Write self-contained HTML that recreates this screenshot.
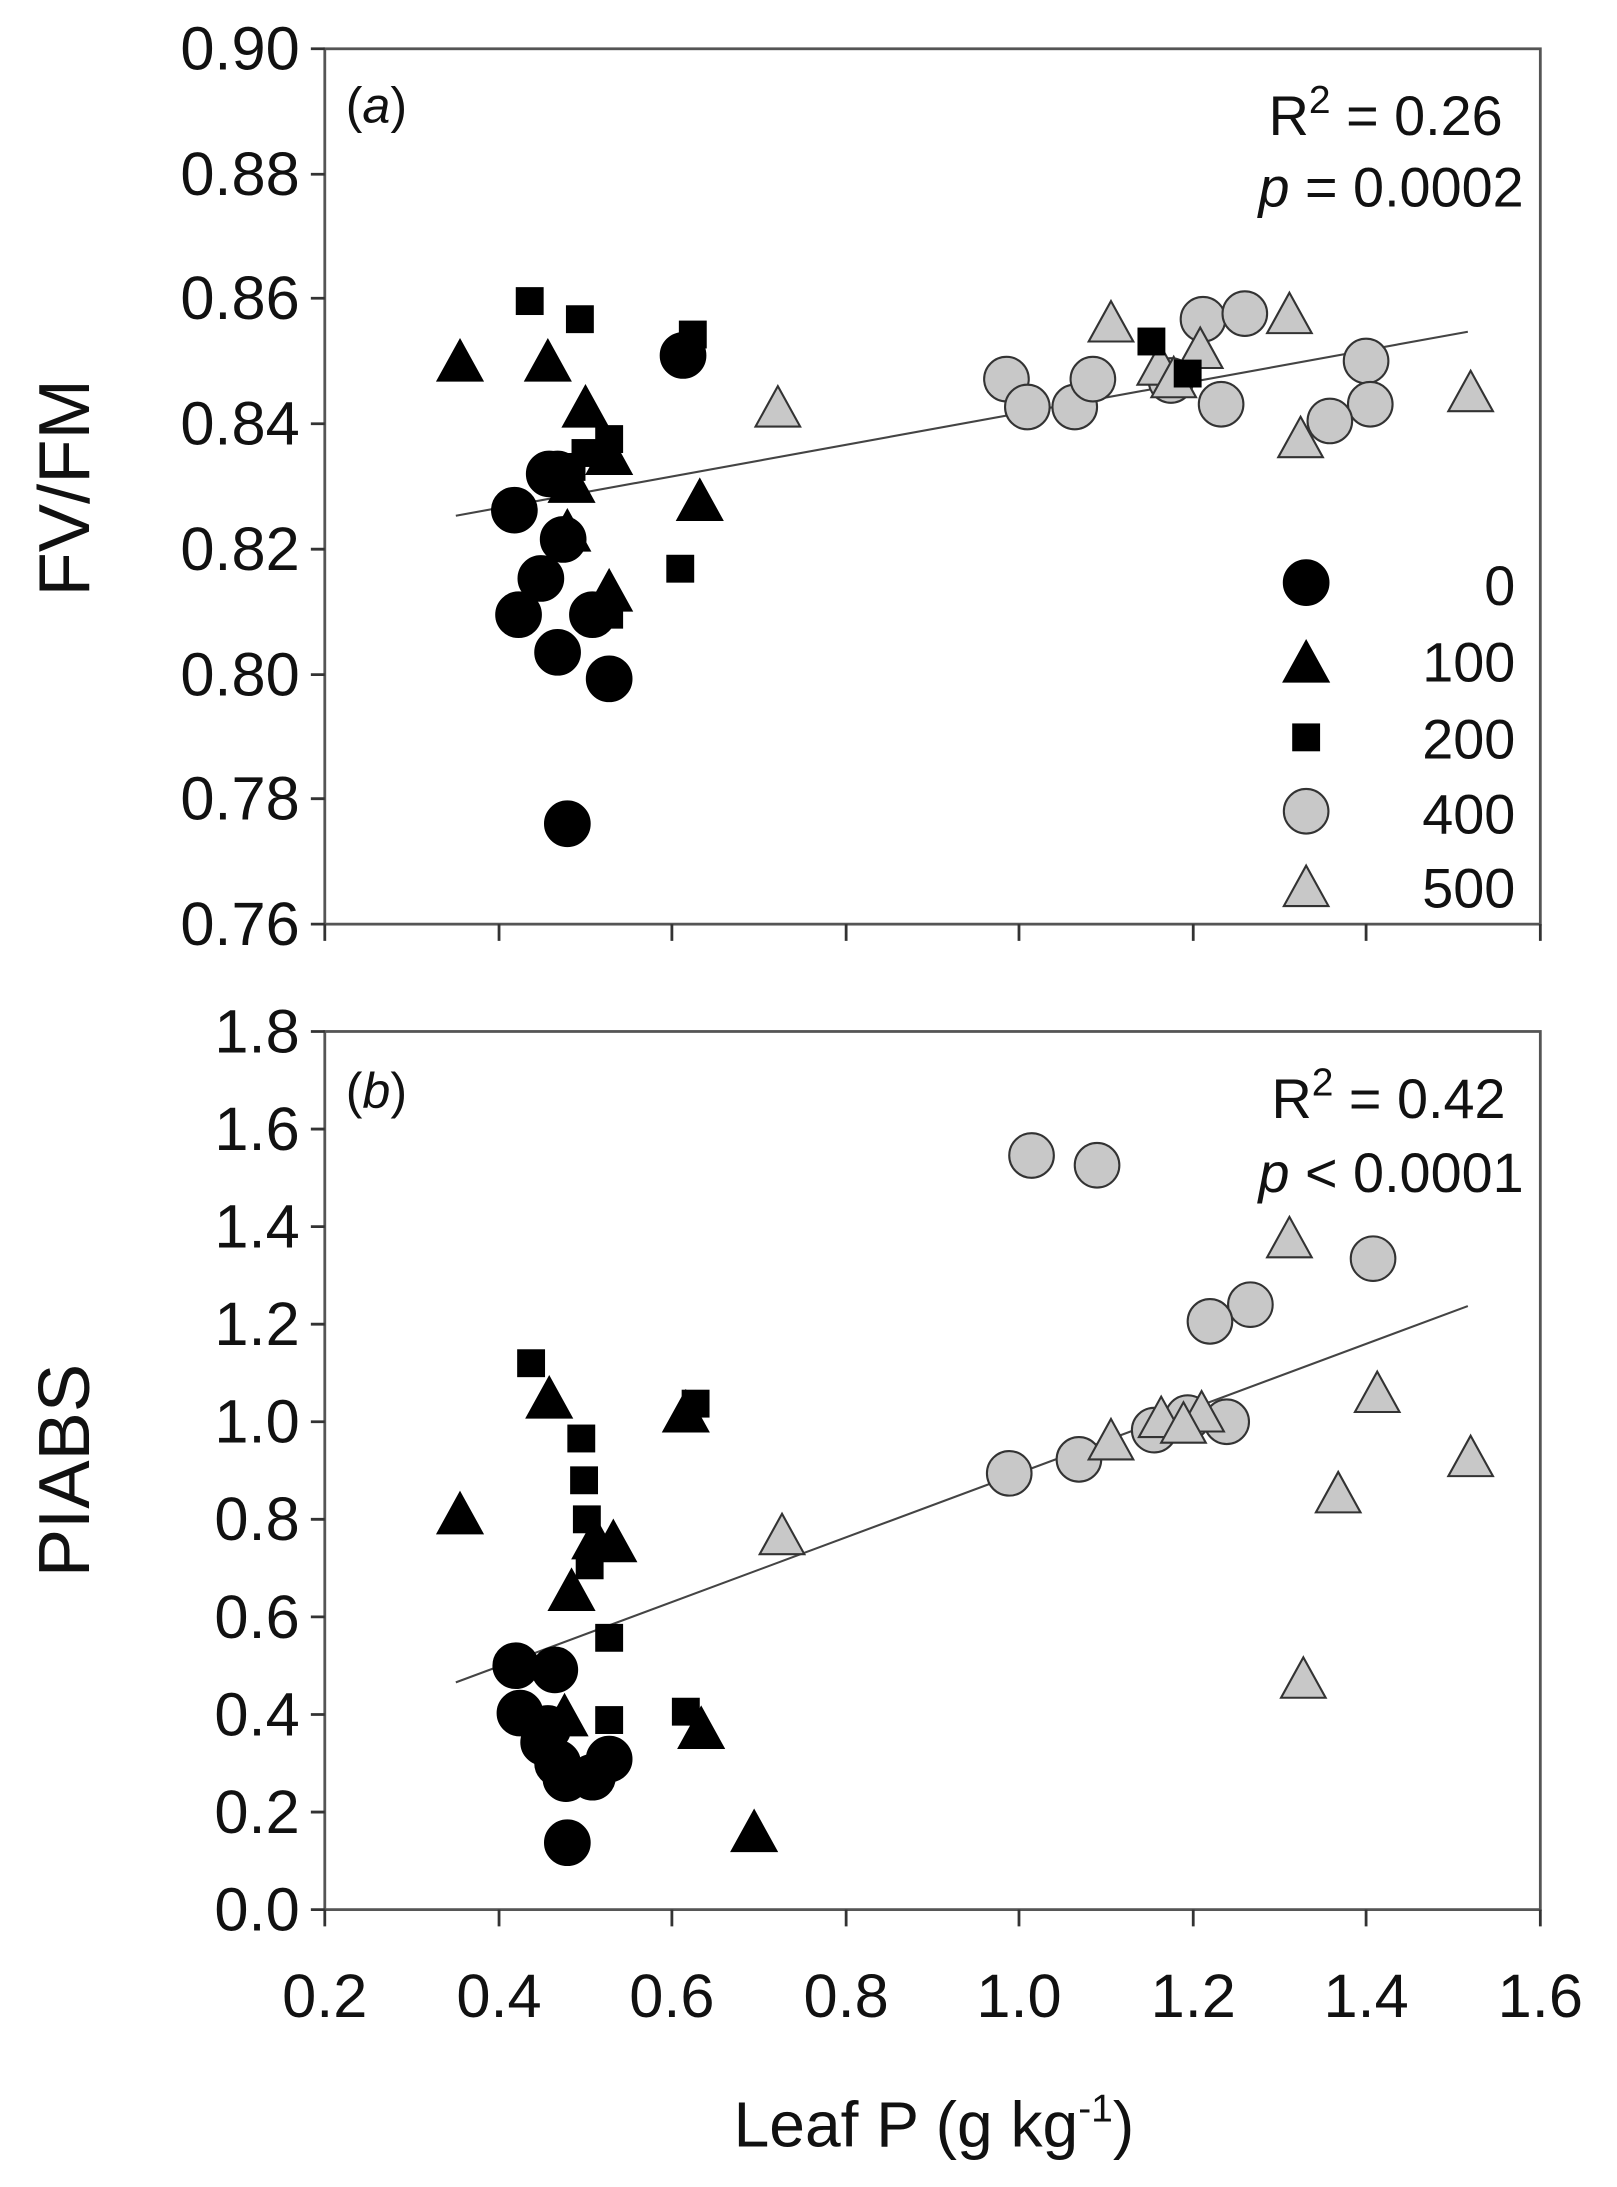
<!DOCTYPE html>
<html><head><meta charset="utf-8"><style>
html,body{margin:0;padding:0;background:#fff}
svg{display:block}
text{font-family:"Liberation Sans",Arial,sans-serif;fill:#111}
</style></head><body>
<svg width="1617" height="2187" viewBox="0 0 1160 1569" preserveAspectRatio="none" xmlns="http://www.w3.org/2000/svg">
<defs>
<circle id="bc" r="16" fill="#000" stroke="#000" stroke-width="1.5"/>
<circle id="gc" r="16" fill="#c8c8c8" stroke="#333" stroke-width="1.5"/>
<polygon id="bt" points="0,-16 16,13 -16,13" fill="#000" stroke="#000" stroke-width="1.5"/>
<polygon id="gt" points="0,-16 16,13 -16,13" fill="#c8c8c8" stroke="#333" stroke-width="1.5"/>
<rect id="bs" x="-10" y="-10" width="20" height="20" fill="#000"/>
</defs>
<g stroke="#555" stroke-width="2" fill="none">
<rect x="233" y="35" width="872" height="628"/>
<rect x="233" y="740" width="872" height="630"/>
</g>
<g stroke="#333" stroke-width="2">
<path d="M233,663v12M358,663v12M482,663v12M607,663v12M731,663v12M856,663v12M980,663v12M1105,663v12"/>
<path d="M233,1370v12M358,1370v12M482,1370v12M607,1370v12M731,1370v12M856,1370v12M980,1370v12M1105,1370v12"/>
<path d="M223,35h10M223,125h10M223,214h10M223,304h10M223,394h10M223,484h10M223,573h10M223,663h10"/>
<path d="M223,740h10M223,810h10M223,880h10M223,950h10M223,1020h10M223,1090h10M223,1160h10M223,1230h10M223,1300h10M223,1370h10"/>
</g>
<g font-size="44" text-anchor="end">
<text x="215" y="50">0.90</text><text x="215" y="140">0.88</text><text x="215" y="229">0.86</text><text x="215" y="319">0.84</text><text x="215" y="409">0.82</text><text x="215" y="499">0.80</text><text x="215" y="588">0.78</text><text x="215" y="678">0.76</text>
<text x="215" y="755">1.8</text><text x="215" y="825">1.6</text><text x="215" y="895">1.4</text><text x="215" y="965">1.2</text><text x="215" y="1035">1.0</text><text x="215" y="1105">0.8</text><text x="215" y="1175">0.6</text><text x="215" y="1245">0.4</text><text x="215" y="1315">0.2</text><text x="215" y="1385">0.0</text>
</g>
<g font-size="44" text-anchor="middle">
<text x="233" y="1447">0.2</text><text x="358" y="1447">0.4</text><text x="482" y="1447">0.6</text><text x="607" y="1447">0.8</text><text x="731" y="1447">1.0</text><text x="856" y="1447">1.2</text><text x="980" y="1447">1.4</text><text x="1105" y="1447">1.6</text>
<text x="670" y="1540" font-size="46">Leaf P (g kg<tspan dy="-18" font-size="28">-1</tspan><tspan dy="18">)</tspan></text>
<text transform="translate(64,350) rotate(-90)" font-size="52">FV/FM</text>
<text transform="translate(64,1055) rotate(-90)" font-size="52">PIABS</text>
</g>
<g font-size="36">
<text x="248" y="88">(<tspan font-style="italic">a</tspan>)</text>
<text x="248" y="795">(<tspan font-style="italic">b</tspan>)</text>
</g>
<g font-size="40" text-anchor="end">
<text x="1078" y="97">R<tspan dy="-16" font-size="28">2</tspan><tspan dy="16"> = 0.26</tspan></text>
<text x="1093" y="148"><tspan font-style="italic">p</tspan> = 0.0002</text>
<text x="1080" y="802">R<tspan dy="-16" font-size="28">2</tspan><tspan dy="16"> = 0.42</tspan></text>
<text x="1093" y="855"><tspan font-style="italic">p</tspan> &lt; 0.0001</text>
<text x="1087" y="434">0</text><text x="1087" y="489">100</text><text x="1087" y="544">200</text><text x="1087" y="598">400</text><text x="1087" y="651">500</text>
</g>
<use href="#bc" x="937" y="418"/><use href="#bt" x="937" y="476"/><use href="#bs" x="937" y="529"/><use href="#gc" x="937" y="582"/><use href="#gt" x="937" y="637"/>
<line x1="327" y1="370" x2="1053" y2="238" stroke="#444" stroke-width="1.5"/>
<line x1="327" y1="1207" x2="1053" y2="937" stroke="#444" stroke-width="1.5"/>
<!-- panel a -->
<use href="#gc" x="722" y="272"/><use href="#gc" x="737" y="292"/><use href="#gc" x="771" y="292"/><use href="#gc" x="784" y="272"/><use href="#gc" x="863" y="229"/><use href="#gc" x="893" y="225"/><use href="#gc" x="876" y="290"/><use href="#gc" x="980" y="259"/><use href="#gc" x="983" y="290"/><use href="#gc" x="954" y="302"/><use href="#gc" x="840" y="273"/>
<use href="#gt" x="558" y="293"/><use href="#gt" x="797" y="232"/><use href="#gt" x="832" y="263"/><use href="#gt" x="861" y="251"/><use href="#gt" x="925" y="226"/><use href="#gt" x="933" y="315"/><use href="#gt" x="1055" y="282"/><use href="#gt" x="842" y="272"/>
<use href="#bs" x="826" y="245"/><use href="#bs" x="852" y="268"/>
<use href="#bc" x="369" y="366"/><use href="#bc" x="372" y="441"/><use href="#bc" x="388" y="415"/><use href="#bc" x="400" y="468"/><use href="#bc" x="394" y="340"/><use href="#bc" x="404" y="387"/><use href="#bc" x="425" y="441"/><use href="#bc" x="437" y="487"/><use href="#bc" x="407" y="591"/><use href="#bc" x="490" y="255"/><use href="#bc" x="400" y="340"/>
<use href="#bt" x="330" y="260"/><use href="#bt" x="393" y="260"/><use href="#bt" x="420" y="293"/><use href="#bt" x="410" y="347"/><use href="#bt" x="437" y="327"/><use href="#bt" x="502" y="360"/><use href="#bt" x="437" y="425"/><use href="#bt" x="407" y="382"/>
<use href="#bs" x="380" y="216"/><use href="#bs" x="416" y="229"/><use href="#bs" x="497" y="240"/><use href="#bs" x="437" y="315"/><use href="#bs" x="488" y="408"/><use href="#bs" x="437" y="441"/><use href="#bs" x="420" y="325"/><use href="#bs" x="410" y="335"/>
<!-- panel b -->
<use href="#gc" x="740" y="829"/><use href="#gc" x="787" y="836"/><use href="#gc" x="985" y="903"/><use href="#gc" x="897" y="936"/><use href="#gc" x="868" y="948"/><use href="#gc" x="724" y="1057"/><use href="#gc" x="774" y="1047"/><use href="#gc" x="828" y="1026"/><use href="#gc" x="852" y="1017"/><use href="#gc" x="880" y="1020"/>
<use href="#gt" x="561" y="1102"/><use href="#gt" x="797" y="1034"/><use href="#gt" x="833" y="1018"/><use href="#gt" x="862" y="1014"/><use href="#gt" x="925" y="889"/><use href="#gt" x="988" y="1000"/><use href="#gt" x="1055" y="1046"/><use href="#gt" x="960" y="1072"/><use href="#gt" x="935" y="1205"/><use href="#gt" x="849" y="1022"/>
<use href="#bc" x="370" y="1195"/><use href="#bc" x="373" y="1229"/><use href="#bc" x="398" y="1198"/><use href="#bc" x="390" y="1250"/><use href="#bc" x="400" y="1265"/><use href="#bc" x="406" y="1276"/><use href="#bc" x="425" y="1275"/><use href="#bc" x="437" y="1262"/><use href="#bc" x="407" y="1322"/><use href="#bc" x="393" y="1240"/>
<use href="#bt" x="330" y="1087"/><use href="#bt" x="394" y="1004"/><use href="#bt" x="492" y="1014"/><use href="#bt" x="410" y="1142"/><use href="#bt" x="427" y="1105"/><use href="#bt" x="440" y="1107"/><use href="#bt" x="503" y="1241"/><use href="#bt" x="541" y="1315"/><use href="#bt" x="405" y="1232"/>
<use href="#bs" x="381" y="978"/><use href="#bs" x="419" y="1062"/><use href="#bs" x="499" y="1007"/><use href="#bs" x="421" y="1090"/><use href="#bs" x="423" y="1123"/><use href="#bs" x="437" y="1175"/><use href="#bs" x="437" y="1234"/><use href="#bs" x="492" y="1228"/><use href="#bs" x="417" y="1032"/>
</svg>
</body></html>
